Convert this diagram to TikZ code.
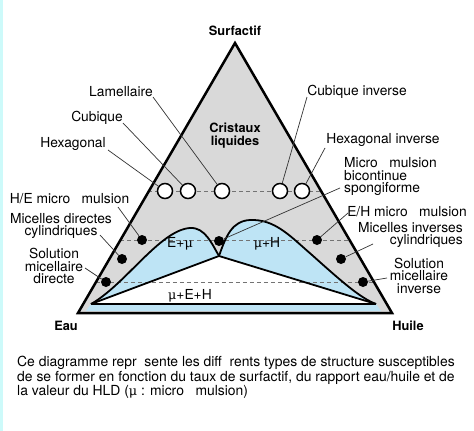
\documentclass[tikz,border=0pt]{standalone}
\usepackage{fontspec}
\setmainfont{TeX Gyre Heros}
\newfontfamily\grk{DejaVu Serif}[Scale=0.92]
\newcommand{\mufont}{{\grk μ}}
\newcommand{\gapE}{\hspace{0.55em}}
\definecolor{trigray}{RGB}{217,217,217}
\definecolor{lobeblue}{RGB}{190,228,245}
\definecolor{framecyan}{RGB}{205,250,250}
\begin{document}
\begin{tikzpicture}[x=1pt,y=-1pt,
  lbl/.style={font=\fontsize{13.8}{12.5}\selectfont, inner sep=0pt, align=center},
  boldlbl/.style={font=\fontsize{12.8}{13}\selectfont\bfseries, inner sep=0pt, align=center},
  leader/.style={draw=black!80, line width=0.7pt},
  dashln/.style={draw=black!55, dash pattern=on 4pt off 3pt, line width=0.8pt},
  ring/.style={circle, draw, fill=white, line width=1.5pt, minimum size=15pt, inner sep=0pt},
  blackdot/.style={circle, fill=black, minimum size=10pt, inner sep=0pt},
  lobeline/.style={line width=1.8pt, line join=round}]
\useasboundingbox (0,0) rectangle (474,431);
\fill[white] (0,0) rectangle (474,431);
\fill[framecyan] (0,0) rectangle (3,431);

\coordinate (A) at (78,313);
\coordinate (B) at (392,313);
\coordinate (C) at (235,43);
\coordinate (L) at (91,304);
\coordinate (R) at (376,304);
\coordinate (X) at (219,256);
\coordinate (BL) at (86,311);
\coordinate (BR) at (381,311);

% fills
\fill[trigray] (A) -- (B) -- (C) -- cycle;
\fill[lobeblue] (L) .. controls (125,285) and (160,230) .. (190,228) .. controls (205,227) and (212,244) .. (X) -- cycle;
\fill[lobeblue] (X) .. controls (226,236) and (232,221) .. (250,220) .. controls (275,219) and (290,236) .. (312,255) .. controls (340,280) and (360,298) .. (R) -- cycle;
\fill[white] (L) -- (X) -- (R) -- cycle;
\fill[lobeblue] (L) -- (R) -- (BR) -- (BL) -- cycle;

% dashed lines
\coordinate (d1l) at (148.4,191); \coordinate (d1r) at (321.6,191);
\coordinate (d2l) at (120.1,240); \coordinate (d2r) at (349.9,240);
\coordinate (d3l) at (95.9,282);  \coordinate (d3r) at (374.1,282);
\draw[dashln] (d1l) -- (d1r);
\draw[dashln] (d2l) -- (d2r);
\draw[dashln] (d3l) -- (d3r);

% outlines
\draw[lobeline] (L) .. controls (125,285) and (160,230) .. (190,228) .. controls (205,227) and (212,244) .. (X);
\draw[lobeline] (X) .. controls (226,236) and (232,221) .. (250,220) .. controls (275,219) and (290,236) .. (312,255) .. controls (340,280) and (360,298) .. (R);
\draw[lobeline] (L) -- (X) -- (R);
\draw[lobeline] (L) -- (R);
\draw[line width=2.5pt, line join=miter] (A) -- (B) -- (C) -- cycle;

% rings
\node[ring] (r1) at (165,191) {};
\node[ring] (r2) at (188,191) {};
\node[ring] (r3) at (222,191) {};
\node[ring] (r4) at (280,191) {};
\node[ring] (r5) at (302,191) {};
% dots
\node[blackdot] (h1) at (142,240) {};
\node[blackdot] (h2) at (122,259) {};
\node[blackdot] (h3) at (106,282) {};
\node[blackdot] (bc) at (219,241) {};
\node[blackdot] (e1) at (317,240) {};
\node[blackdot] (e2) at (341,259) {};
\node[blackdot] (e3) at (363,282) {};

% labels
\node[boldlbl] (tSurf) at (235,31) {Surfactif};
\node[boldlbl] (tCris) at (235,136) {Cristaux\\liquides};
\node[lbl] (tLam) at (121,92) {Lamellaire};
\node[lbl] (tCub) at (97,118) {Cubique};
\node[lbl] (tHex) at (73,144) {Hexagonal};
\node[lbl] (tCubI) at (357,92) {Cubique inverse};
\node[lbl] (tHexI) at (383,140) {Hexagonal inverse};
\node[lbl, align=left, anchor=west] (tBic) at (344,176.5) {Micro\ \gapE mulsion\\bicontinue\\spongiforme};
\node[lbl] (tEH) at (407,212) {E/H micro\ \gapE mulsion};
\node[lbl, align=right, anchor=east] (tMicI) at (463,235) {Micelles inverses\\cylindriques};
\node[lbl] (tSolI) at (419,275.5) {Solution\\micellaire\\inverse};
\node[lbl] (tHE) at (69.5,199) {H/E micro\ \gapE mulsion};
\node[lbl] (tMicD) at (61,226) {Micelles directes\\cylindriques};
\node[lbl] (tSolD) at (54,266) {Solution\\micellaire\\directe};
\node[boldlbl] (tEau) at (66,326) {Eau};
\node[boldlbl] (tHuile) at (408,326) {Huile};
\node[lbl] (tEmu) at (180,244) {E+\mufont};
\node[lbl] (tmuH) at (267,244) {\mufont+H};
\node[lbl] (tmuEH) at (190,296) {\mufont+E+H};
\node[lbl, align=left, anchor=west, font=\fontsize{13.9}{12.2}\selectfont] (tCap) at (17,377.4)
  {Ce diagramme repr\gapE sente les diff\gapE rents types de structure susceptibles\\
   de se former en fonction du taux de surfactif, du rapport eau/huile et de\\
   la valeur du HLD (\mufont\ : micro\ \gapE mulsion)};

% leader lines
\coordinate (lHex) at (108,150);
\coordinate (lCub) at (123,123);
\coordinate (lLam) at (153,97);
\coordinate (lCubI) at (307,97);
\coordinate (lHexI) at (325,148);
\coordinate (lBic) at (340,188);
\coordinate (lEH) at (348,213);
\coordinate (lMicI) at (373,244);
\coordinate (lSolI) at (387,278);
\coordinate (lHE) at (118,207);
\coordinate (lMicD) at (100,235);
\coordinate (lSolD) at (85,268);
\draw[leader] (lHex) -- (r1);
\draw[leader] (lCub) -- (r2);
\draw[leader] (lLam) -- (r3);
\draw[leader] (lCubI) -- (r4);
\draw[leader] (lHexI) -- (r5);
\draw[leader] (lBic) -- (bc);
\draw[leader] (lEH) -- (e1);
\draw[leader] (lMicI) -- (e2);
\draw[leader] (lSolI) -- (e3);
\draw[leader] (lHE) -- (h1);
\draw[leader] (lMicD) -- (h2);
\draw[leader] (lSolD) -- (h3);
\end{tikzpicture}
\end{document}
